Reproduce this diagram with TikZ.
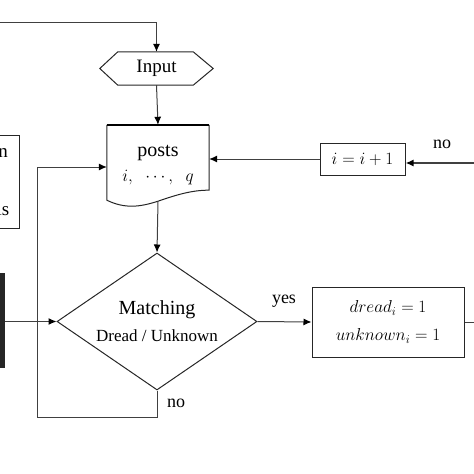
\documentclass[tikz,border=0pt]{standalone}
\usepackage{fontspec}
\setmainfont{Liberation Serif}
\usetikzlibrary{shapes.geometric,arrows.meta,calc}
\begin{document}
\begin{tikzpicture}[x=1pt,y=-1pt,
  line/.style={draw=black!75, line width=1pt},
  arr/.style={line,-{Latex[length=8pt,width=7pt,color=black]}},
  box/.style={draw=black!85, line width=1pt, rectangle, inner sep=0pt},
  lbl/.style={font=\fontsize{18}{18}\selectfont, inner sep=0pt},
  mathfont/.style={font=\fontsize{17}{20}\selectfont}]
\useasboundingbox (0,0) rectangle (474,474);

% input hexagon
\node[inner sep=0pt, minimum width=113pt, minimum height=33pt,
      font=\fontsize{19}{19}\selectfont] (input) at (156.5,68.5) {Input};
\draw[draw=black!85, line width=1pt] (input.west) -- ($(input.north west)+(18,0)$)
  -- ($(input.north east)+(-20,0)$) -- (input.east)
  -- ($(input.south east)+(-20,0)$) -- ($(input.south west)+(18,0)$) -- cycle;

% posts document
\node[inner sep=0pt, minimum width=102pt, minimum height=80pt, align=center]
  (posts) at (158,165)
  {{\fontsize{20}{20}\selectfont posts}\\[9pt]
   {\fontsize{17}{17}\selectfont $i,\;\;\cdots,\;\;q$}};
\draw[draw=black!85, line width=1pt]
  (posts.north east) -- ($(posts.south east)+(0,-15)$)
  .. controls (192,190) and (176,195) .. ($(posts.south)+(0,-4)$)
  .. controls (140,207) and (125,209) .. ($(posts.south west)+(0,-5)$)
  -- (posts.north west);
\draw[draw=black, line width=1.6pt] (posts.north west) -- (posts.north east);
\coordinate (pbot) at ($(posts.south)+(0,-4)$);

% increment box
\node[box, minimum width=85pt, minimum height=32pt, mathfont] (inc) at (362.5,159) {$i = i + 1$};

% decision
\node[diamond, draw=black!85, line width=1pt, aspect=1.46, minimum width=200pt,
      minimum height=137pt, inner sep=0pt, align=center] (match) at (157,321.5)
  {{\fontsize{20}{20}\selectfont Matching}\\[10pt]{\fontsize{17}{17}\selectfont Dread / Unknown}};

% result box
\node[box, minimum width=152pt, minimum height=70pt, align=center, mathfont] (set) at (388,322)
  {$dread_i = 1$\\[8pt]$unknown_i = 1$};

% partial boxes at the left edge
\node[box, minimum width=120pt, minimum height=93pt, anchor=north east] (lbox) at (19.5,134.5) {};
\node[lbl, anchor=east, font=\fontsize{19}{19}\selectfont] (frag1) at (8,153) {n};
\node[lbl, anchor=east, font=\fontsize{19}{19}\selectfont] (frag2) at (9.5,209) {is};
\node[draw=black!85, line width=5pt, minimum width=100pt, minimum height=90pt, anchor=east]
  (lbox2) at (5,320.5) {};

% connectors
\coordinate (topin) at (-5,22);
\draw[arr] (topin) -| (input.north);
\draw[arr] (input.south) -- (posts.north);
\draw[arr] (pbot) -- (match.north);
\draw[arr] (inc.west) -- (inc.west -| posts.east);
\coordinate (rin) at (480,163);
\draw[arr, line width=1.8pt] (rin) -- (rin -| inc.east);
\coordinate (loopc) at (37,417);
\draw[arr] (match.south) |- (loopc) |- ($(posts.west)+(0,2)$);
\draw[arr] (lbox2.east |- match.west) -- (match.west);
\draw[arr] (match.east) -- (set.west);
\coordinate (rout) at (480,322);
\draw[line] (set.east) -- (rout);

% labels
\node[lbl] (lyes) at (284,301) {yes};
\node[lbl] (lno1) at (442,144) {no};
\node[lbl] (lno2) at (176,403) {no};
\end{tikzpicture}
\end{document}
